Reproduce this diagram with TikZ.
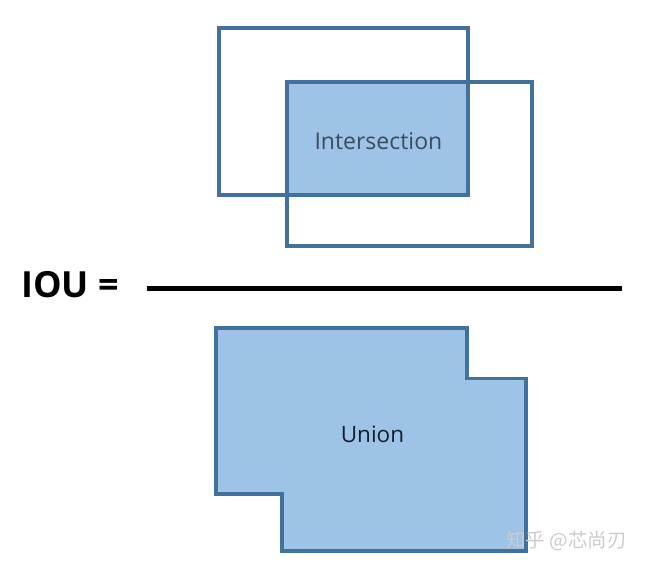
\documentclass[tikz,border=0pt]{standalone}
\usepackage{fontspec}
\setmainfont{Open Sans}
\newfontfamily\cjkfont{Noto Sans CJK SC}
\definecolor{bordo}{RGB}{65,113,156}
\definecolor{riempi}{RGB}{157,195,230}
\definecolor{scritta}{RGB}{60,76,94}
\definecolor{nero}{RGB}{20,30,48}

\begin{document}
\begin{tikzpicture}[x=1pt, y=-1pt]
    \useasboundingbox (0,0) rectangle (646,572);
    % Parametri
    \def\lw{3.4pt}  % spessore bordi

    % Intersezione
    \fill[riempi] (287,82) rectangle (468,195);

    % Riquadri
    \draw[bordo, line width=\lw] (219,28) rectangle (468,195);
    \draw[bordo, line width=\lw] (287,82) rectangle (532,246);
    \node[scritta, anchor=base, inner sep=0, font=\fontsize{23}{26}\selectfont]
        (inter) at (378.4,149.3) {Intersection};

    % Frazione
    \node[anchor=base west, inner sep=0, font=\fontsize{36}{40}\selectfont\bfseries]
        (iou) at (21,297.7) {IOU =};
    \coordinate (barL) at (147,289);
    \coordinate (barR) at (622,289);
    \draw[line width=5pt] (barL) -- (barR);

    % Unione
    \draw[bordo, fill=riempi, line width=\lw]
        (216,328) -- (467,328) -- (467,378.5) -- (526,378.5) -- (526,551)
        -- (282,551) -- (282,494) -- (216,494) -- cycle;
    \node[nero, anchor=base, inner sep=0, font=\fontsize{22.5}{26}\selectfont]
        (unione) at (372.5,442.7) {Union};

    % Firma
    \node[gray!40, anchor=base west, inner sep=0, font=\cjkfont\fontsize{19.5}{22}\selectfont]
        (firma) at (506,547) {知乎 @芯尚刃};
\end{tikzpicture}
\end{document}
